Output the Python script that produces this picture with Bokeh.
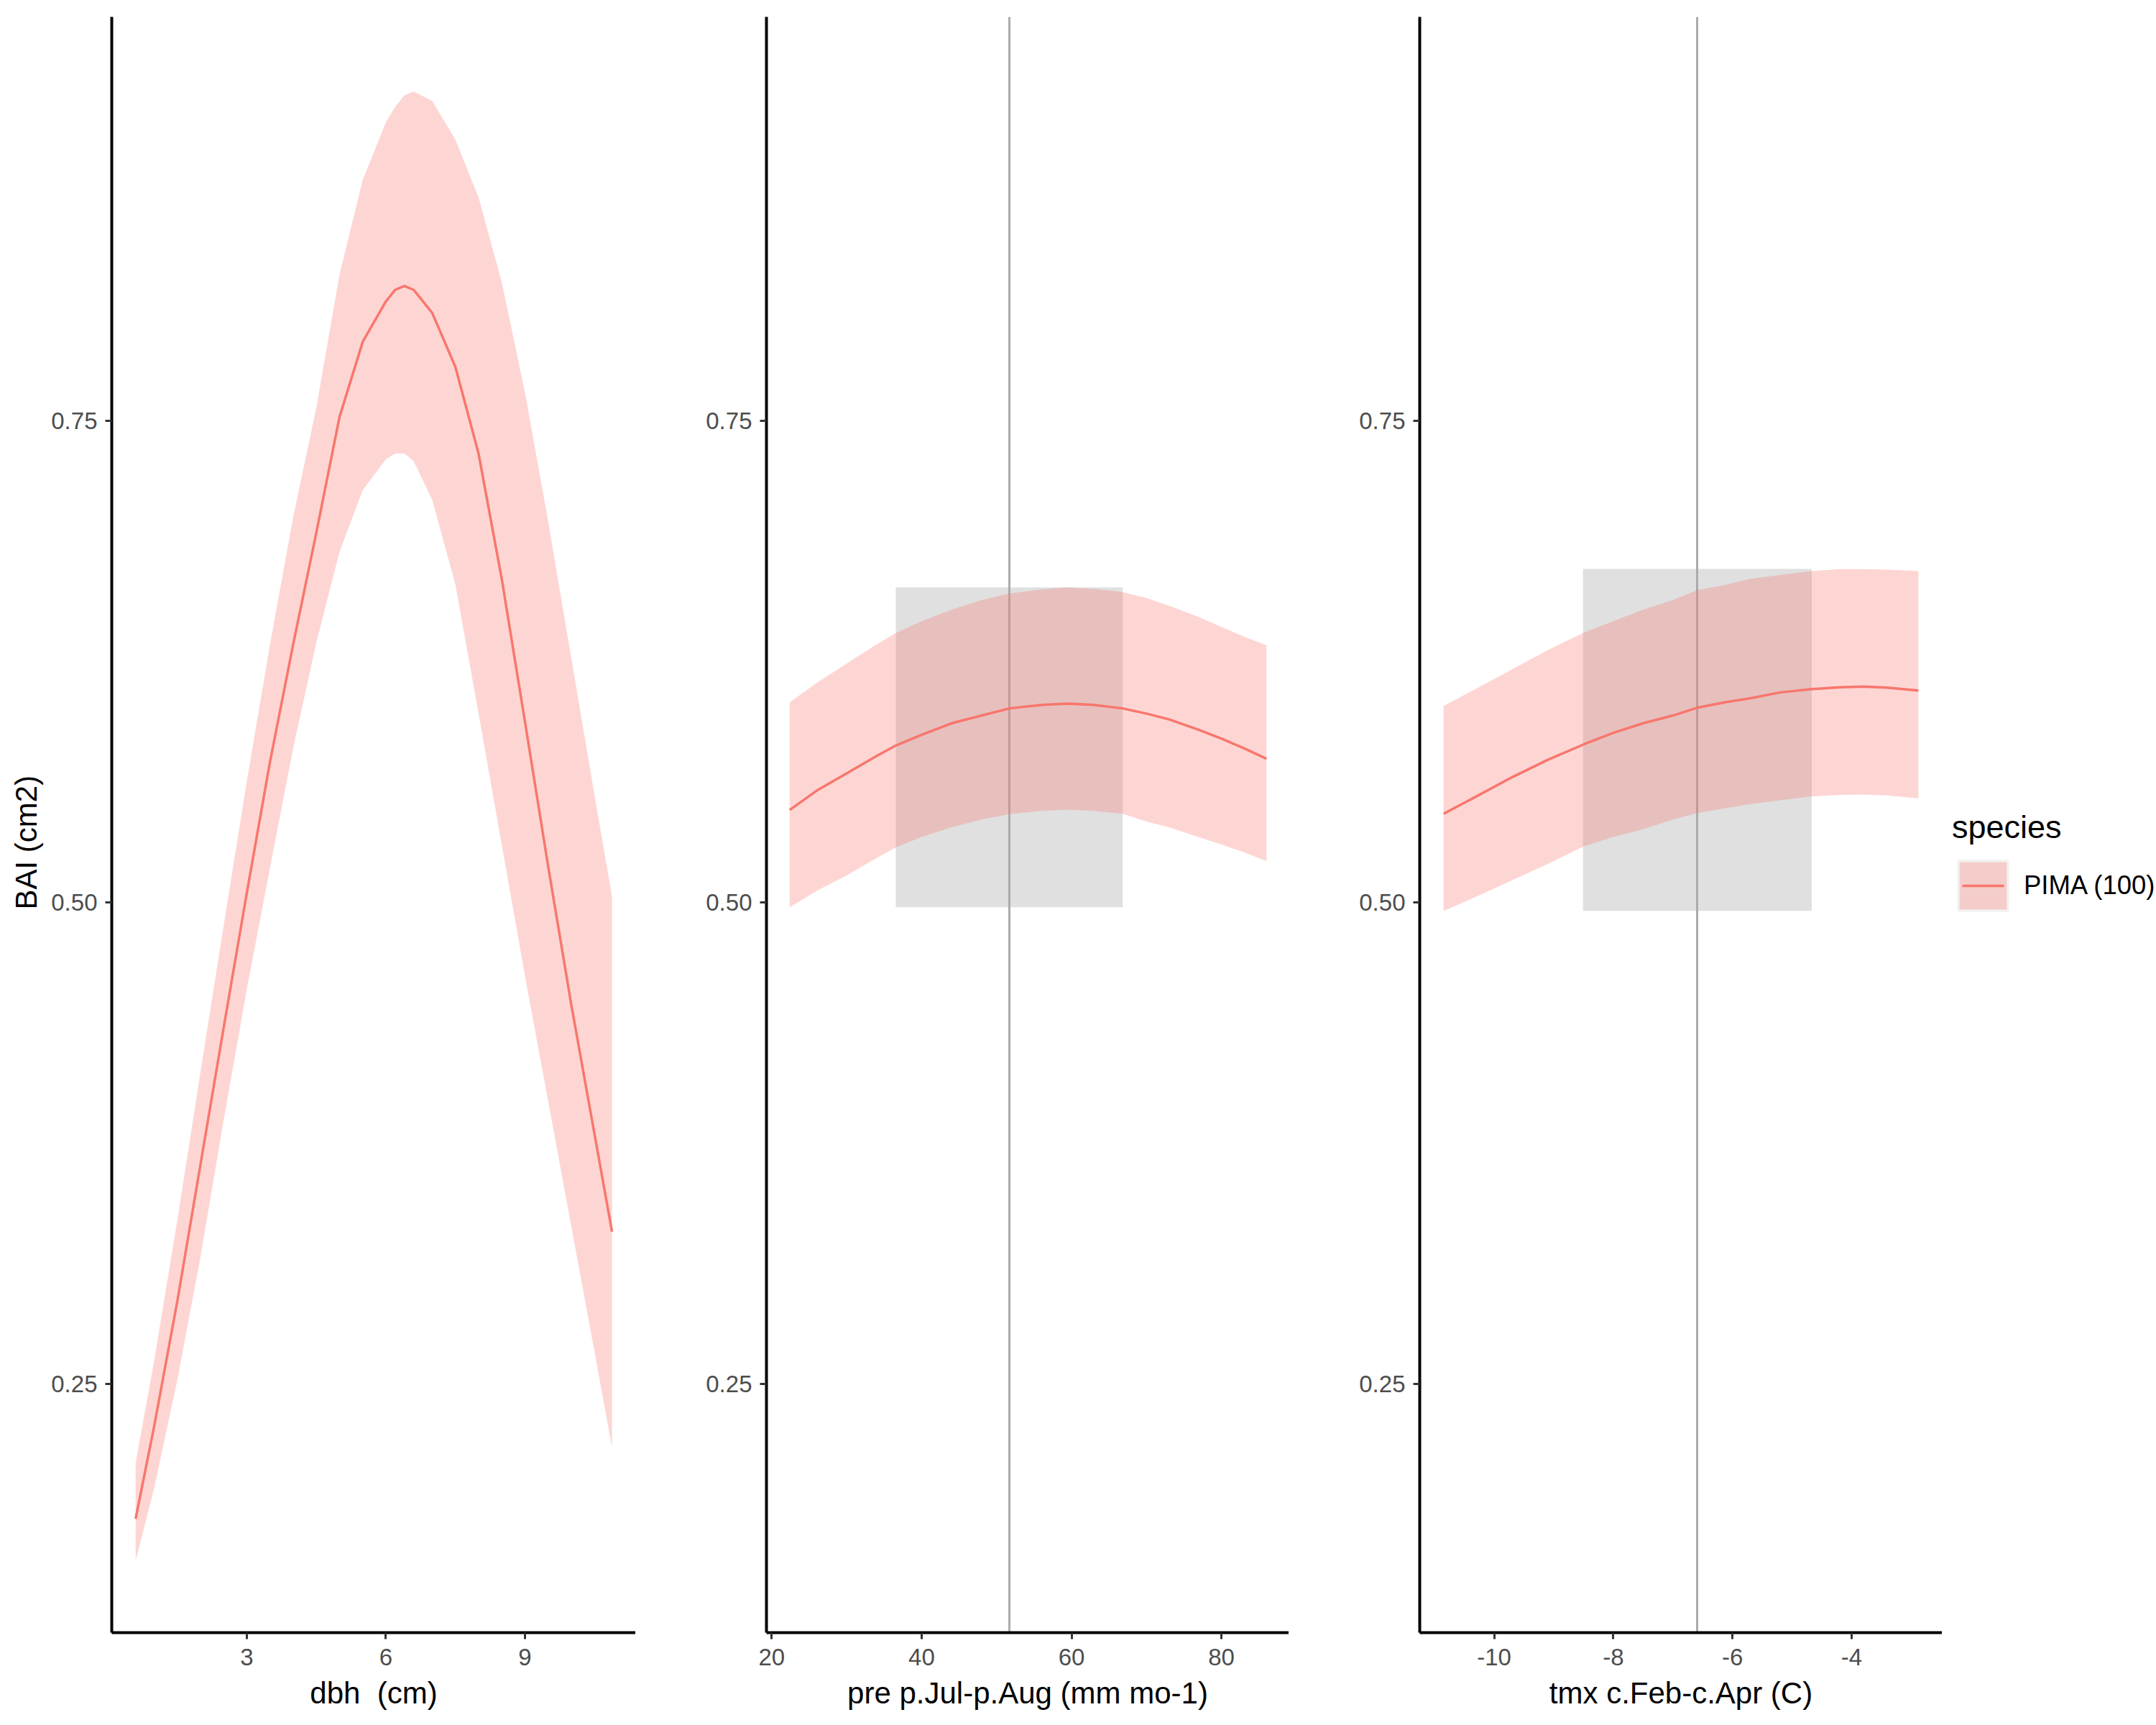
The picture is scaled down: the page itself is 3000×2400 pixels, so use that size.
from bokeh.plotting import figure
from bokeh.layouts import row
from bokeh.models import Range1d, FixedTicker, PrintfTickFormatter, Legend, LegendItem, Title
from bokeh.embed import file_html
from bokeh.resources import INLINE

# ---------------- data ----------------
y_limits = (0.1209, 0.9597)
y_ticks = [0.25, 0.50, 0.75]

# panel 1 : dbh
dbh_x = [0.6, 1.0, 1.5, 2.0, 2.5, 3.0, 3.5, 4.0, 4.5, 5.0, 5.5, 6.0, 6.2, 6.4, 6.6,
         7.0, 7.5, 8.0, 8.5, 9.0, 9.5, 10.0, 10.5, 10.88]
dbh_fit = [0.180, 0.228, 0.293, 0.364, 0.435, 0.505, 0.573, 0.634, 0.692, 0.752,
           0.791, 0.812, 0.818, 0.820, 0.818, 0.806, 0.778, 0.733, 0.668, 0.594,
           0.519, 0.447, 0.380, 0.329]
dbh_lower = [0.158, 0.196, 0.252, 0.316, 0.387, 0.455, 0.518, 0.580, 0.635, 0.682,
             0.714, 0.730, 0.733, 0.733, 0.729, 0.709, 0.665, 0.598, 0.530, 0.462,
             0.397, 0.332, 0.267, 0.217]
dbh_upper = [0.209, 0.262, 0.335, 0.412, 0.488, 0.563, 0.634, 0.700, 0.757, 0.826,
             0.875, 0.905, 0.913, 0.919, 0.921, 0.916, 0.896, 0.866, 0.822, 0.765,
             0.698, 0.627, 0.556, 0.503]
dbh_xlim = (0.085, 11.39)
dbh_ticks = [3, 6, 9]

# panel 2 : precipitation
pre_x = [22.4, 26, 30, 34, 36.6, 40, 44, 48, 51.7, 56, 59.5, 63, 66.8, 70, 73,
         76.7, 80, 83, 86.0]
pre_fit = [0.548, 0.558, 0.567, 0.576, 0.5815, 0.587, 0.593, 0.597, 0.6007, 0.6025,
           0.6032, 0.6025, 0.6007, 0.598, 0.595, 0.590, 0.585, 0.580, 0.5746]
pre_lower = [0.4975, 0.506, 0.514, 0.523, 0.5286, 0.534, 0.539, 0.543, 0.5458, 0.5475,
             0.5481, 0.5475, 0.5460, 0.542, 0.539, 0.5342, 0.530, 0.526, 0.5215]
pre_upper = [0.6038, 0.614, 0.624, 0.634, 0.6399, 0.646, 0.652, 0.657, 0.6604, 0.6625,
             0.6635, 0.6628, 0.6611, 0.658, 0.654, 0.6486, 0.643, 0.638, 0.6335]
pre_xlim = (19.3, 89.0)
pre_ticks = [20, 40, 60, 80]
pre_vline = 51.7
pre_box = dict(left=36.56, right=66.83, bottom=0.4975, top=0.6635)

# panel 3 : max temperature
tmx_x = [-10.85, -10.3, -9.7, -9.1, -8.5, -8.0, -7.5, -7.0, -6.6, -6.1, -5.7, -5.2,
         -4.67, -4.2, -3.8, -3.4, -2.88]
tmx_fit = [0.546, 0.555, 0.565, 0.574, 0.582, 0.588, 0.593, 0.597, 0.601, 0.604,
           0.606, 0.609, 0.6107, 0.6117, 0.612, 0.6115, 0.610]
tmx_lower = [0.4955, 0.503, 0.5115, 0.520, 0.529, 0.534, 0.538, 0.543, 0.5464, 0.549,
             0.551, 0.553, 0.555, 0.5558, 0.556, 0.5555, 0.554]
tmx_upper = [0.602, 0.611, 0.621, 0.631, 0.640, 0.646, 0.652, 0.657, 0.662, 0.665,
             0.668, 0.670, 0.672, 0.673, 0.673, 0.6728, 0.672]
tmx_xlim = (-11.25, -2.48)
tmx_ticks = [-10, -8, -6, -4]
tmx_vline = -6.59
tmx_box = dict(left=-8.51, right=-4.67, bottom=0.4956, top=0.6731)

y_title = "BAI (cm2)"
species_label = "PIMA (100)"
legend_title = "species"

# ---------------- styling ----------------
FONT = "Liberation Sans"
RED = "#F8766D"
H = 2400


def style_axes(p, xticks, xlabel):
    for ax in (p.xaxis[0], p.yaxis[0]):
        ax.axis_line_color = "black"
        ax.axis_line_width = 4
        ax.major_tick_line_color = "#333333"
        ax.major_tick_line_width = 3
        ax.major_tick_out = 9
        ax.major_tick_in = 0
        ax.minor_tick_line_color = None
        ax.major_label_text_font = FONT
        ax.major_label_text_font_size = "33px"
        ax.major_label_text_color = "#4D4D4D"
        ax.axis_label_text_font = FONT
        ax.axis_label_text_font_size = "42px"
        ax.axis_label_text_font_style = "normal"
        ax.axis_label_text_color = "black"
    p.xaxis[0].ticker = FixedTicker(ticks=xticks)
    p.xaxis[0].formatter = PrintfTickFormatter(format="%d")
    p.xaxis[0].major_label_standoff = 13
    p.xaxis[0].axis_label = xlabel
    p.xaxis[0].axis_label_standoff = 12
    p.yaxis[0].ticker = FixedTicker(ticks=y_ticks)
    p.yaxis[0].formatter = PrintfTickFormatter(format="%.2f")
    p.yaxis[0].major_label_standoff = 11


def panel(x, fit, lower, upper, xlim, xticks, xlabel, width, left, right,
          vline=None, box=None):
    p = figure(width=width, height=H, x_range=Range1d(*xlim), y_range=Range1d(*y_limits),
               output_backend="svg", toolbar_location=None,
               min_border_left=left, min_border_right=right,
               min_border_top=23, min_border_bottom=129)
    p.xgrid.visible = False
    p.ygrid.visible = False
    p.outline_line_color = None
    p.background_fill_color = "white"
    p.border_fill_color = "white"
    if box is not None:
        p.quad(left=[box["left"]], right=[box["right"]], bottom=[box["bottom"]],
               top=[box["top"]], fill_color="#E0E0E0", line_color=None)
    if vline is not None:
        p.vspan(x=[vline], line_color="#ABABAB", line_width=3)
    p.varea(x=x, y1=lower, y2=upper, fill_color=RED, fill_alpha=0.3)
    p.line(x=x, y=fit, line_color=RED, line_width=3.5)
    style_axes(p, xticks, xlabel)
    return p


p1 = panel(dbh_x, dbh_fit, dbh_lower, dbh_upper, dbh_xlim, dbh_ticks, "dbh \u00a0(cm)",
           width=884, left=155, right=0)
p1.add_layout(Title(text=y_title, align="left", offset=1006, vertical_align="middle",
                    text_font=FONT, text_font_size="42px", text_font_style="normal",
                    text_color="black", standoff=16), "left")
p2 = panel(pre_x, pre_fit, pre_lower, pre_upper, pre_xlim, pre_ticks,
           "pre p.Jul-p.Aug (mm mo-1)", width=909, left=182, right=0,
           vline=pre_vline, box=pre_box)
p3 = panel(tmx_x, tmx_fit, tmx_lower, tmx_upper, tmx_xlim, tmx_ticks,
           "tmx c.Feb-c.Apr (C)", width=909, left=182, right=0,
           vline=tmx_vline, box=tmx_box)

# legend area
lg = figure(width=298, height=H, x_range=Range1d(0, 1), y_range=Range1d(0, 1),
            output_backend="svg", toolbar_location=None,
            x_axis_location=None, y_axis_location=None,
            min_border_left=0, min_border_right=0, min_border_top=0, min_border_bottom=0)
lg.xgrid.visible = False
lg.ygrid.visible = False
lg.outline_line_color = None
r_bg = lg.quad(left=[5], right=[6], bottom=[5], top=[6], fill_color="#F2F2F2",
               line_color="#F2F2F2", line_width=3)
r_fill = lg.quad(left=[5], right=[6], bottom=[5], top=[6], fill_color=RED, fill_alpha=0.3,
                 line_color="#F2F2F2", line_width=3)
r_line = lg.line(x=[5, 6], y=[5, 6], line_color=RED, line_width=3.5,
                 line_dash="0 14 58 1000")
legend = Legend(items=[LegendItem(label=species_label, renderers=[r_bg, r_fill, r_line])],
                location=(13.9, 996), title=legend_title,
                title_text_font=FONT, title_text_font_size="45px", title_text_color="black",
                title_text_font_style="normal", title_standoff=12,
                label_text_font=FONT, label_text_font_size="36.5px", label_text_color="black",
                label_standoff=14, glyph_width=86, glyph_height=86,
                padding=0, margin=0, spacing=0, border_line_color=None,
                background_fill_alpha=0)
lg.add_layout(legend)

layout = row(p1, p2, p3, lg, spacing=0)
open("out.html", "w").write(file_html(layout, INLINE))
